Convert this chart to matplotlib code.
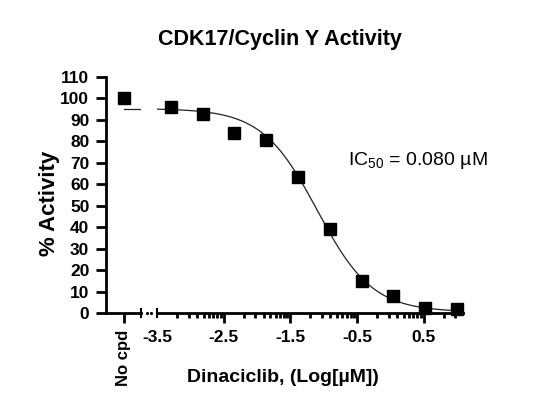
import numpy as np
import matplotlib
matplotlib.use("Agg")
import matplotlib.pyplot as plt

# ------------------- Data -------------------
log_conc = [-3.294, -2.817, -2.340, -1.863, -1.386, -0.908, -0.431, 0.046, 0.523, 1.0]
activity = [96.0, 92.6, 83.8, 80.7, 63.3, 39.2, 14.9, 7.7, 2.3, 1.9]
no_cpd_label = ["No cpd"]
no_cpd_value = [100.0]

# 4PL fit parameters (curve drawn from them)
fit_top = 95.3
fit_bottom = 0.5
fit_ic50 = 0.080
fit_hill = 1.05

y_ticks = list(range(0, 111, 10))
x_ticks = [-3.5, -2.5, -1.5, -0.5, 0.5]
x_ticklabels = ["-3.5", "-2.5", "-1.5", "-0.5", "0.5"]

plt.rcParams["font.family"] = ["Liberation Sans", "DejaVu Sans"]

# ------------------- Functions -------------------

def four_pl(x):
  return fit_bottom + (fit_top - fit_bottom) / (1 + 10 ** ((x - np.log10(fit_ic50)) * fit_hill))

def style_ticks(ax):
  ax.tick_params(axis="both", which="major", width=2, length=7.5, pad=4.5)
  ax.tick_params(axis="x", which="minor", width=2, length=3.8)

# ------------------- Figure -------------------
W, H = 538, 405
fig = plt.figure(figsize=(W / 100, H / 100), dpi=100)
ax0 = fig.add_axes([106 / W, 92 / H, 35 / W, 236 / H])
ax1 = fig.add_axes([157 / W, 92 / H, 306 / W, 236 / H])

for ax in (ax0, ax1):
  for s in ("top", "right"):
    ax.spines[s].set_visible(False)
  for s in ("left", "bottom"):
    ax.spines[s].set_linewidth(2)
  ax.set_ylim(0, 110)
ax1.spines["left"].set_visible(False)

tick_font = dict(fontsize=12.5, fontweight="bold")

# "No cpd" segment
ax0.set_xlim(0, 1)
ax0.set_xticks([0.5])
ax0.set_xticklabels(no_cpd_label, rotation=90, fontsize=12, fontweight="bold")
ax0.set_yticks(y_ticks)
ax0.set_yticklabels([str(v) for v in y_ticks], **tick_font)
ax0.plot([0.5], no_cpd_value, "s", color="black", markersize=8, clip_on=False, zorder=3)
ax0.plot([0.5, 1.0], [four_pl(-10), four_pl(-10)], "-", color="#222222", lw=0.9)

# dose-response segment
ax1.set_xlim(-3.5, 1.09)
ax1.set_xticks(x_ticks)
ax1.set_xticklabels(x_ticklabels, **tick_font)
minor = [d + np.log10(k) for d in x_ticks for k in range(2, 10)]
ax1.set_xticks([m for m in minor if m < 1.09], minor=True)
ax1.set_yticks([])
ax1.xaxis.get_major_ticks()[0].tick1line.set_visible(False)

xs = np.linspace(-3.5, log_conc[-1], 400)
ax1.plot(xs, four_pl(xs), "-", color="#222222", lw=0.9)
ax1.plot(log_conc, activity, "s", color="black", markersize=8, clip_on=False, zorder=3)

style_ticks(ax0)
style_ticks(ax1)

# axis break marks
e = 4 / 236
ax0.plot([1, 1], [-e, e], color="black", lw=1.5, transform=ax0.transAxes, clip_on=False)
ax1.plot([0, 0], [-e, e], color="black", lw=1.5, transform=ax1.transAxes, clip_on=False)
ax1.plot([-10 / 306, -6 / 306], [0, 0], ".", color="black", ms=2.5, transform=ax1.transAxes, clip_on=False)

ax1.text(-0.636, 71.3, r"IC$_{\mathregular{50}}$ = 0.080 µM", fontsize=14, ha="left", va="center")

fig.text(279.5 / W, 1 - 40 / H, "CDK17/Cyclin Y Activity", fontsize=15.5, fontweight="bold", ha="center", va="center")
fig.text(283 / W, 1 - 377 / H, "Dinaciclib, (Log[µM])", fontsize=14, fontweight="bold", ha="center", va="center")
fig.text(50 / W, 1 - 203.5 / H, "% Activity", fontsize=16, fontweight="bold", rotation=90, ha="center", va="center")

fig.savefig("out.png", dpi=100)
